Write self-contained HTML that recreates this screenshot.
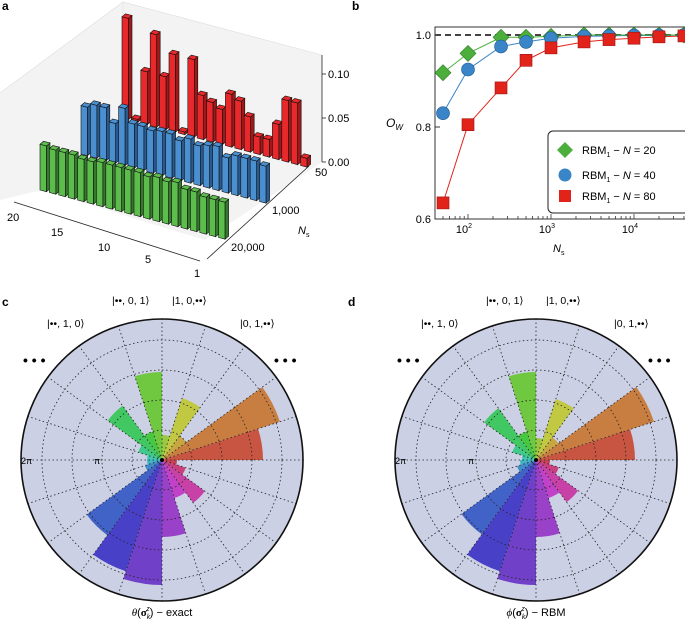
<!DOCTYPE html>
<html><head><meta charset="utf-8"><style>
body{margin:0;background:#fff;}
svg{font-family:"Liberation Sans",sans-serif;}
</style></head><body>
<svg id="fig" width="685" height="625" viewBox="0 0 685 625">
<text x="2" y="10" font-size="12" font-weight="bold">a</text>
<text x="352" y="10" font-size="12" font-weight="bold">b</text>
<text x="2" y="306" font-size="12" font-weight="bold">c</text>
<text x="348" y="306" font-size="12" font-weight="bold">d</text>
<g id="pa"></g>
<g id="pb"></g>
<g id="pc"></g>
<g id="pd"></g>
</svg>
<script>
// ---------- Panel a data ----------
const aIndex = [20,19,18,17,16,15,14,13,12,11,10,9,8,7,6,5,4,3,2,1];
const aRed = [0.115,0.003,0.06,0.105,0.06,0.088,0.003,0.088,0.05,0.045,0.04,0.06,0.055,0.04,0.02,0.02,0.04,0.07,0.07,0.01];
const aBlue = [0.055,0.06,0.06,0.045,0.065,0.05,0.05,0.048,0.05,0.05,0.045,0.05,0.045,0.048,0.05,0.04,0.045,0.045,0.045,0.042];
const aGreen = [0.052,0.05,0.05,0.05,0.048,0.048,0.05,0.05,0.05,0.05,0.05,0.048,0.05,0.048,0.05,0.045,0.045,0.042,0.042,0.042];
const aZTicks = [0, 0.05, 0.10];
const aZTickLabels = ["0.00","0.05","0.10"];
const aNsLabels = ["50","1,000","20,000"];
const aXTickLabels = ["20","15","10","5","1"];
// ---------- Panel b data ----------
const bNs = [50,100,250,500,1000,2500,5000,10000,20000,40000];
const bGreen = [0.918,0.96,0.995,0.995,0.997,1.0,1.0,1.0,1.0,1.0];
const bBlue = [0.83,0.925,0.975,0.985,0.993,0.997,0.998,0.999,0.999,1.0];
const bRed = [0.635,0.805,0.885,0.945,0.972,0.985,0.99,0.993,0.996,0.998];
const bYTicks = [0.6,0.8,1.0];
const bXTicks = [100,1000,10000];
const bXTickLabels = ["2","3","4"];
// ---------- Panel c/d data ----------
const cRadii = [101,124,30,65,25,88,30,67,25,15,15,18,93,117,125,77,40,53,25,15];
const dRadii = [99,124,28,64,22,88,30,64,25,14,16,20,92,117,125,77,40,52,24,14];

const NS='http://www.w3.org/2000/svg';
function mk(parent,tag,attrs,text){const e=document.createElementNS(NS,tag);for(const k in attrs)e.setAttribute(k,attrs[k]);if(text!==undefined)e.textContent=text;parent.appendChild(e);return e;}

// ---------- Panel a ----------
(function(){
  const g=document.getElementById('pa');
  mk(g,'polygon',{points:'0,93 123,2 322,55 322,162 205,240 42,190 0,200',fill:'#f3f3f3',stroke:'none'});
  mk(g,'polyline',{points:'0,93 123,2 322,55',fill:'none',stroke:'#ddd','stroke-width':0.6});
  mk(g,'line',{x1:123,y1:2,x2:123,y2:115,stroke:'#e0e0e0','stroke-width':0.6});
  mk(g,'line',{x1:322,y1:55,x2:322,y2:162,stroke:'#222','stroke-width':0.8});
  const zScale=880;
  const z0=162;
  function base(row,i){
    return [40+i*9.4+row*41, 190+i*2.5-row*36];
  }
  const rows=[[aRed,2,'#e8282a','#a01818'],[aBlue,1,'#4a90d0','#2a5a90'],[aGreen,0,'#5cbc4c','#357a2c']];
  rows.forEach(([vals,row,c1,c2])=>{
    vals.forEach((v,i)=>{
      const [px,py]=base(row,i);
      const h=v*zScale;
      const ux=6.5,uy=1.7,vx=3.5,vy=-3;
      const pts=a=>a.map(p=>p.join(',')).join(' ');
      const f=mk(g,'polygon',{points:pts([[px,py],[px+ux,py+uy],[px+ux,py+uy-h],[px,py-h]]),fill:c1,stroke:'#111','stroke-width':0.6});
      
      
      const s=mk(g,'polygon',{points:pts([[px+ux,py+uy],[px+ux+vx,py+uy+vy],[px+ux+vx,py+uy+vy-h],[px+ux,py+uy-h]]),fill:c2,stroke:'#111','stroke-width':0.6});
      
      
      mk(g,'polygon',{points:pts([[px,py-h],[px+ux,py+uy-h],[px+ux+vx,py+uy+vy-h],[px+vx,py+vy-h]]),fill:c1,stroke:'#111','stroke-width':0.6});
    });
  });
  aZTicks.forEach((t,k)=>{
    const y=z0-t*zScale;
    mk(g,'line',{x1:322,y1:y,x2:326,y2:y,stroke:'#222','stroke-width':0.8});
    const e=mk(g,'text',{x:328,y:y+4,'font-size':11},aZTickLabels[k]);
    
    
  });
  mk(g,'line',{x1:14,y1:202,x2:200,y2:261,stroke:'#222','stroke-width':0.8});
  mk(g,'line',{x1:207,y1:259,x2:309,y2:166,stroke:'#222','stroke-width':0.8});
  const xl=[[7,221],[51,236],[98,251],[145,263],[194,277]];
  aXTickLabels.forEach((t,k)=>{const e=mk(g,'text',{x:xl[k][0],y:xl[k][1],'font-size':11},t);});
  const nl=[[315,176],[272,214],[231,251]];
  aNsLabels.forEach((t,k)=>{const e=mk(g,'text',{x:nl[k][0],y:nl[k][1],'font-size':11},t);});
  const t=mk(g,'text',{x:298,y:234,'font-size':11,'font-style':'italic'},'N');
  mk(t,'tspan',{'font-size':7,'font-style':'normal',dy:3},'s');
})();

// ---------- Panel b ----------
(function(){
  const g=document.getElementById('pb');
  const L=435,R=685,T=27,B=219;
  const xs=n=>468+(Math.log10(n)-2)*83;
  const ys=v=>219-(v-0.6)/0.2*92;
  mk(g,'rect',{x:L,y:T,width:R-L+2,height:B-T,fill:'#fff',stroke:'#333','stroke-width':1});
  bYTicks.forEach(t=>{const y=ys(t);mk(g,'line',{x1:L,y1:y,x2:L+5,y2:y,stroke:'#333'});
    const e=mk(g,'text',{x:L-4,y:y+4,'font-size':11,'text-anchor':'end'},t.toFixed(1));});
  for(let d=1;d<=4;d++)for(let m=1;m<10;m++){const n=m*Math.pow(10,d);const x=xs(n);if(x<L||x>R)continue;mk(g,'line',{x1:x,y1:B,x2:x,y2:B-(m===1?5:3),stroke:'#333','stroke-width':0.8});}
  bXTicks.forEach((t,k)=>{const x=xs(t);const e=mk(g,'text',{x:x-4,y:B+14,'font-size':11,'text-anchor':'middle'},'10');mk(e,'tspan',{'font-size':7,dy:-5},bXTickLabels[k]);});
  mk(g,'line',{x1:L,y1:ys(1),x2:R,y2:ys(1),stroke:'#444','stroke-width':2,'stroke-dasharray':'6,4'});
  const series=[[bRed,'#e2231a','sq'],[bBlue,'#3a85c8','ci'],[bGreen,'#4caf3c','di']];
  series.forEach(([vals,c,shape])=>{
    mk(g,'polyline',{points:bNs.map((n,i)=>xs(n)+','+ys(vals[i])).join(' '),fill:'none',stroke:c,'stroke-width':1});
  });
  [[bGreen,'#4caf3c','di'],[bBlue,'#3a85c8','ci'],[bRed,'#e2231a','sq']].forEach(([vals,c,shape])=>{
    bNs.forEach((n,i)=>{const x=xs(n),y=ys(vals[i]);let e;
      if(shape==='sq')e=mk(g,'rect',{x:x-6,y:y-6,width:12,height:12,fill:c,stroke:'#a01010','stroke-width':0.6});
      else if(shape==='ci')e=mk(g,'circle',{cx:x,cy:y,r:6.5,fill:c,stroke:'#1c5a90','stroke-width':0.6});
      else e=mk(g,'polygon',{points:`${x},${y-8} ${x+8},${y} ${x},${y+8} ${x-8},${y}`,fill:c,stroke:'#2a7a20','stroke-width':0.6});
      
      
    });
  });
  const t=mk(g,'text',{x:386,y:127,'font-size':12,'font-style':'italic'},'O');mk(t,'tspan',{'font-size':8,dy:3},'W');
  const nx=mk(g,'text',{x:553,y:252,'font-size':11,'font-style':'italic'},'N');mk(nx,'tspan',{'font-size':7,'font-style':'normal',dy:3},'s');
  const lg=mk(g,'g',{});
  mk(lg,'rect',{x:548,y:131,width:145,height:82,rx:5,fill:'#fff',stroke:'#222','stroke-width':1});
  const ent=[['di','#4caf3c','20',150],['ci','#3a85c8','40',175],['sq','#e2231a','80',196]];
  ent.forEach(([s,c,n,y])=>{const x=565;
    if(s==='sq')mk(lg,'rect',{x:x-6,y:y-6,width:12,height:12,fill:c});
    else if(s==='ci')mk(lg,'circle',{cx:x,cy:y,r:6.5,fill:c});
    else mk(lg,'polygon',{points:`${x},${y-8} ${x+8},${y} ${x},${y+8} ${x-8},${y}`,fill:c});
    const t=mk(lg,'text',{x:582,y:y+4,'font-size':11},'RBM');mk(t,'tspan',{'font-size':7,dy:3},'1');mk(t,'tspan',{dy:-3},' − ');mk(t,'tspan',{'font-style':'italic'},'N');mk(t,'tspan',{},' = '+n);
  });
})();

// ---------- Panels c, d ----------
function polar(id,cx,cy,radii,title){
  const g=document.getElementById(id);
  const R=141;
  mk(g,'circle',{cx,cy,r:R,fill:'#cbd0e4',stroke:'none'});
  const n=radii.length, step=360/n;
  radii.forEach((r,i)=>{
    const a0=i*step*Math.PI/180,a1=(i+1)*step*Math.PI/180;
    const x0=cx+r*Math.cos(a0),y0=cy-r*Math.sin(a0),x1=cx+r*Math.cos(a1),y1=cy-r*Math.sin(a1);
    const hue=(i+0.5)*step;
    const e=mk(g,'path',{d:`M${cx},${cy} L${x0},${y0} A${r},${r} 0 0 0 ${x1},${y1} Z`,fill:`hsl(${hue},55%,52%)`});
    
    
  });
  [30,60,90,120].forEach(r=>mk(g,'circle',{cx,cy,r,fill:'none',stroke:'#222','stroke-width':0.8,'stroke-dasharray':'1.5,2.5'}));
  for(let i=0;i<n;i++){const a=i*step*Math.PI/180;mk(g,'line',{x1:cx,y1:cy,x2:cx+R*Math.cos(a),y2:cy-R*Math.sin(a),stroke:'#222','stroke-width':0.8,'stroke-dasharray':'1.5,2.5'});}
  mk(g,'circle',{cx,cy,r:R,fill:'none',stroke:'#111','stroke-width':1.6});
  mk(g,'circle',{cx,cy,r:2,fill:'#000'});
  mk(g,'text',{x:cx-141,y:cy+4,'font-size':9},'2π');
  mk(g,'text',{x:cx-68,y:cy+4,'font-size':9},'π');
  const lab=[['|••, 0, 1⟩',cx-50,304],['|1, 0,••⟩',cx+10,304],['|••, 1, 0⟩',cx-115,327],['|0, 1,••⟩',cx+78,327]];
  lab.forEach(([t,x,y])=>{const e=mk(g,'text',{x,y,'font-size':10.5},t);});
  mk(g,'text',{x:cx-139,y:cy-95,'font-size':14,'font-weight':'bold'},'• • •');
  mk(g,'text',{x:cx+112,y:cy-95,'font-size':14,'font-weight':'bold'},'• • •');
  const tt=mk(g,'text',{x:cx,y:616,'font-size':11,'text-anchor':'middle'},'');
  
  
  mk(tt,'tspan',{'font-family':'Liberation Serif','font-style':'italic'},title);
  mk(tt,'tspan',{},'(');mk(tt,'tspan',{'font-weight':'bold','font-family':'Liberation Serif'},'σ');
  mk(tt,'tspan',{'font-size':7,dy:3,'font-style':'italic'},'k');mk(tt,'tspan',{'font-size':7,dy:-8,dx:-4,'font-style':'italic'},'z');
  mk(tt,'tspan',{dy:5},') − '+(id==='pc'?'exact':'RBM'));
}
polar('pc',162,460,cRadii,'θ');
polar('pd',536,460,dRadii,'ϕ');
</script>
</body></html>
